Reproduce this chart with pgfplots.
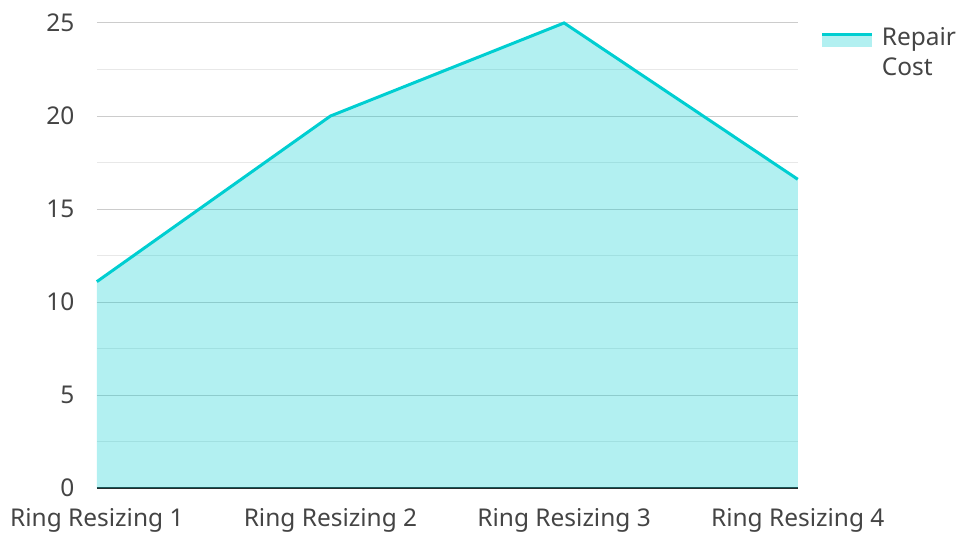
\documentclass[border=0pt]{standalone}
\usepackage{fontspec}
\setmainfont{Noto Sans}
\usepackage{pgfplots}
\pgfplotsset{compat=1.18}
\definecolor{lc}{HTML}{00CED1}
\definecolor{txt}{HTML}{444444}
\begin{document}
\begin{tikzpicture}
\begin{axis}[name=ax, scale only axis, width=702pt, height=466pt,
  xmin=0, xmax=3, ymin=0, ymax=25, clip=false,
  xtick={0,1,2,3},
  xticklabels={Ring Resizing 1,Ring Resizing 2,Ring Resizing 3,Ring Resizing 4},
  ytick={0,5,...,25}, minor y tick num=1,
  ymajorgrids, yminorgrids,
  major grid style={color=black!20, line width=1pt},
  minor grid style={color=black!9, line width=1pt},
  axis x line*=bottom, axis y line*=left,
  x axis line style={-, line width=1.5pt, color=black!85},
  y axis line style={draw=none},
  major tick length=0pt, minor tick length=0pt,
  tick style={draw=none},
  ticklabel style={font=\fontsize{24.5}{29}\selectfont, text=txt},
  yticklabel style={xshift=-19pt},
  xticklabel style={yshift=-17pt},
  /pgf/number format/assume math mode=true,
  legend style={at={(1,1)}, anchor=north west, xshift=20pt, yshift=3pt, draw=none, fill=none,
    font=\fontsize{24.5}{30}\selectfont, text=txt},
  legend cell align=left,
  legend image code/.code={
    \fill[lc, draw=none, fill opacity=0.3] (0pt,-12pt) rectangle (50pt,1pt);
    \draw[lc, line width=3pt] (0pt,1pt) -- (50pt,1pt);
  },
]
\addplot[draw=none, fill=lc, fill opacity=0.3, forget plot] coordinates {(0,11.1) (1,20) (2,25) (3,16.6)} \closedcycle;
\addplot[lc, line width=3pt] coordinates {(0,11.1) (1,20) (2,25) (3,16.6)};
\addlegendentry{\begin{tabular}[t]{@{\hspace{6pt}}l@{}}Repair\\Cost\end{tabular}}
\end{axis}
\path ([shift={(-97pt,-44pt)}]ax.south west) rectangle ([shift={(864pt,489pt)}]ax.south west);
\end{tikzpicture}
\end{document}
